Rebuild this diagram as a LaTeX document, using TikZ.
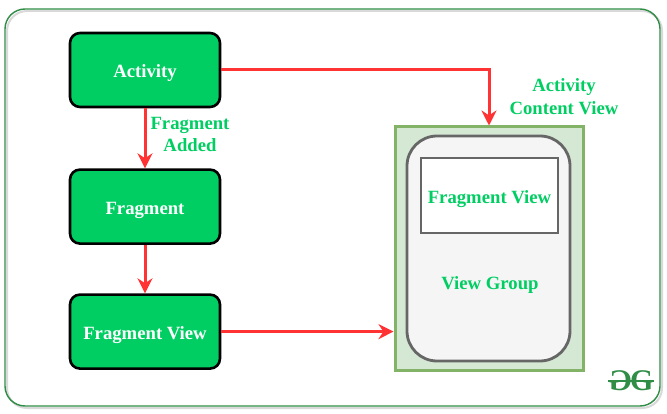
\documentclass[tikz,border=0pt]{standalone}
\usepackage{xcolor}
\usepackage{fontspec}
\usepackage{tikz}
\usetikzlibrary{positioning,arrows.meta}
\setmainfont{Liberation Serif}
\definecolor{gfggreen}{HTML}{00CE63}
\definecolor{gfgdark}{HTML}{2F8D46}
\definecolor{arrowred}{HTML}{FF3333}
\definecolor{groupfill}{HTML}{D5E8D4}
\definecolor{groupline}{HTML}{82B366}
\definecolor{phonefill}{HTML}{F5F5F5}
\definecolor{phoneline}{HTML}{666666}
\tikzset{
    stepbox/.style={draw=black, line width=2.6pt, fill=gfggreen, rounded corners=10pt, minimum width=150pt, minimum height=74pt, text=white, text height=20pt, text depth=4pt, font=\fontsize{18.7}{22.5}\selectfont\bfseries},
    greentext/.style={text=gfggreen, align=center, font=\fontsize{18.7}{22.5}\selectfont\bfseries},
    link/.style={draw=arrowred, line width=3pt, -{Stealth[length=15pt,width=15pt]}},
}
\begin{document}
\begin{tikzpicture}[x=1pt, y=-1pt]
    \useasboundingbox (0,0) rectangle (667,414);
    \fill[white] (0,0) rectangle (667,414);
    \draw[black!15, line width=2pt, rounded corners=20pt] (7,11) rectangle (662,408);
    \draw[gfgdark, line width=1.4pt, rounded corners=20pt] (5,9) rectangle (660,406);
    % left column
    \node[stepbox] (activity) at (145,70) {Activity};
    \node[stepbox, below=60pt of activity] (fragment) {Fragment};
    \node[stepbox, below=48.4pt of fragment] (fragmentview) {Fragment View};
    % right side
    \node[draw=groupline, fill=groupfill, line width=3pt, minimum width=188pt, minimum height=243pt] (outerview) at (489,248.5) {};
    \node[draw=phoneline, fill=phonefill, line width=2.8pt, rounded corners=30pt, minimum width=163pt, minimum height=225pt] (viewgroup) at (488.5,248.5) {};
    \node[draw=phoneline, fill=white, line width=1.6pt, minimum width=137pt, minimum height=75pt, text height=21pt, text depth=5pt, greentext] (innerview) at (489.5,195.5) {Fragment View};
    \node[greentext] (grouplabel) at (490,285) {View Group};
    % labels
    \node[greentext] (addedlabel) at (190,134.5) {Fragment\\Added};
    \node[greentext] (contentlabel) at (564,96.5) {Activity\\Content View};
    % arrows
    \draw[link] (activity) -- (fragment);
    \draw[link] (fragment) -- (fragmentview);
    \draw[link] (fragmentview.east) -- (outerview.west |- fragmentview.east);
    \draw[link] (activity.east) -| (outerview.north);
    % logo
    \node[text=gfgdark, inner sep=0pt, font=\fontsize{30}{30}\selectfont\bfseries] (logo) at (631,381) {\reflectbox{G}\kern-2pt G};
    \draw[gfgdark, line width=1.6pt] (logo.west) -- (logo.east);
\end{tikzpicture}
\end{document}
